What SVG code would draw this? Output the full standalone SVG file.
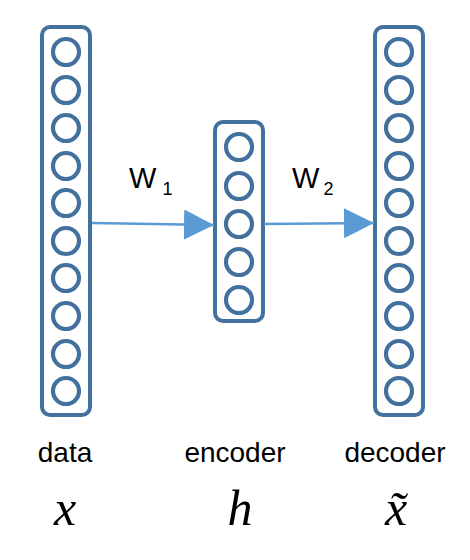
<svg xmlns="http://www.w3.org/2000/svg" width="470" height="560" viewBox="0 0 470 560">
  <style>
    .box { fill: none; stroke: #41719C; stroke-width: 4; }
    .unit { fill: none; stroke: #41719C; stroke-width: 4.2; }
    .conn { stroke: #5B9BD5; stroke-width: 2.5; fill: none; }
    .lbl { font-family: "Liberation Sans", Arial, sans-serif; font-size: 28px; fill: #000; text-anchor: middle; }
    .w { font-family: "Liberation Sans", Arial, sans-serif; font-size: 29px; fill: #000; }
    .sub { font-size: 18px; }
    .math { font-family: "Liberation Serif", "DejaVu Serif", serif; font-style: italic; font-size: 50px; fill: #000; text-anchor: middle; }
  </style>
  <defs>
    <marker id="head" markerUnits="userSpaceOnUse" markerWidth="32" markerHeight="32" refX="30" refY="15" orient="auto">
      <path d="M0,0 L30,15 L0,30 Z" fill="#5B9BD5"/>
    </marker>
  </defs>
  <rect width="470" height="560" fill="#fff"/>

  <g id="data">
    <rect class="box" x="42" y="27" width="48" height="388" rx="8"/>
    <g class="unit">
      <circle cx="66" cy="52" r="13"/>
      <circle cx="66" cy="90" r="13"/>
      <circle cx="66" cy="128" r="13"/>
      <circle cx="66" cy="166" r="13"/>
      <circle cx="66" cy="203" r="13"/>
      <circle cx="66" cy="241" r="13"/>
      <circle cx="66" cy="278" r="13"/>
      <circle cx="66" cy="316" r="13"/>
      <circle cx="66" cy="354" r="13"/>
      <circle cx="66" cy="391" r="13"/>
    </g>
  </g>

  <g id="encoder">
    <rect class="box" x="215" y="122" width="48" height="199" rx="8"/>
    <g class="unit">
      <circle cx="239" cy="147" r="13"/>
      <circle cx="239" cy="186" r="13"/>
      <circle cx="239" cy="224" r="13"/>
      <circle cx="239" cy="262" r="13"/>
      <circle cx="239" cy="300" r="13"/>
    </g>
  </g>

  <g id="decoder">
    <rect class="box" x="375" y="27" width="48" height="388" rx="8"/>
    <g class="unit">
      <circle cx="399" cy="52" r="13"/>
      <circle cx="399" cy="90" r="13"/>
      <circle cx="399" cy="128" r="13"/>
      <circle cx="399" cy="166" r="13"/>
      <circle cx="399" cy="203" r="13"/>
      <circle cx="399" cy="241" r="13"/>
      <circle cx="399" cy="278" r="13"/>
      <circle cx="399" cy="316" r="13"/>
      <circle cx="399" cy="354" r="13"/>
      <circle cx="399" cy="391" r="13"/>
    </g>
  </g>

  <g id="connectors">
    <line class="conn" x1="92" y1="223" x2="214" y2="225" marker-end="url(#head)"/>
    <line class="conn" x1="264" y1="224" x2="374" y2="223" marker-end="url(#head)"/>
  </g>

  <g id="weights">
    <text class="w" x="129" y="188">W<tspan class="sub" dx="6" dy="7">1</tspan></text>
    <text class="w" x="292" y="188">W<tspan class="sub" dx="4" dy="7">2</tspan></text>
  </g>

  <g id="labels">
    <text class="lbl" x="65" y="462">data</text>
    <text class="lbl" x="235" y="462">encoder</text>
    <text class="lbl" x="395" y="462">decoder</text>
    <text class="math" x="65" y="525">x</text>
    <text class="math" x="240" y="525">h</text>
    <text class="math" x="396" y="525">x̃</text>
  </g>
</svg>
